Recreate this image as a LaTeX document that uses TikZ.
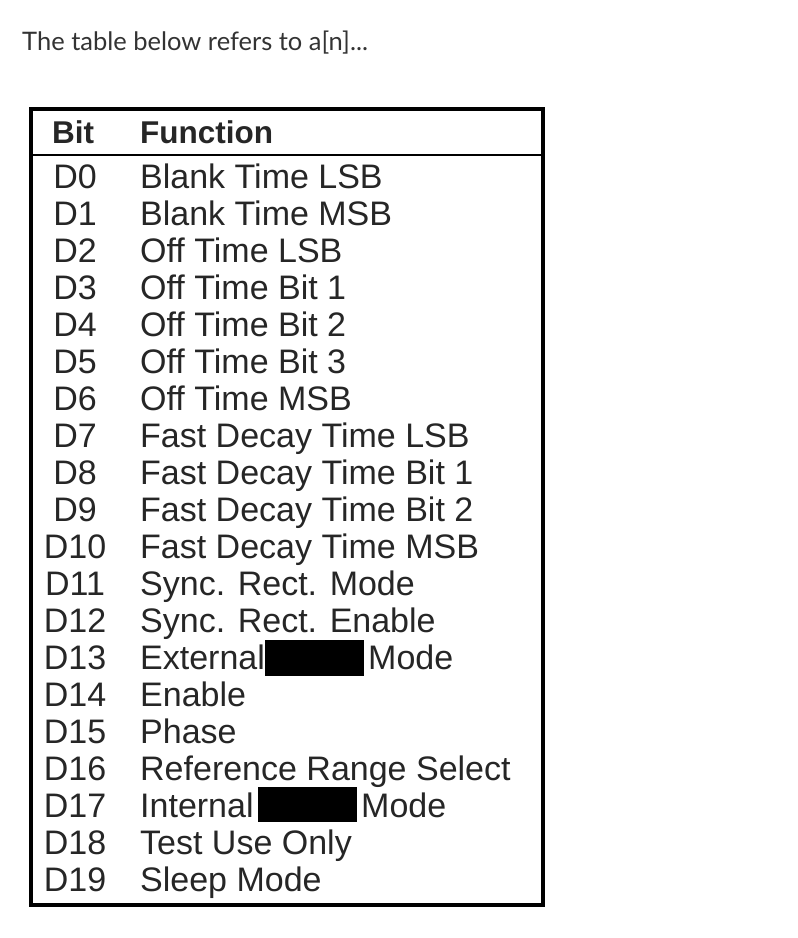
\documentclass[tikz,border=0pt]{standalone}
\usepackage{fontspec}
\setmainfont{Liberation Sans}
\newfontfamily\lato{Lato}
\begin{document}
\begin{tikzpicture}[x=1pt,y=-1pt,
  cell/.style={anchor=base west,inner sep=0pt,font=\fontsize{34}{34}\selectfont,text=black!85},
  bitc/.style={anchor=base,inner sep=0pt,font=\fontsize{34}{34}\selectfont,text=black!85},
  hdr/.style={anchor=base west,inner sep=0pt,font=\bfseries\fontsize{31.5}{31.5}\selectfont,text=black!85},
  redact/.style={fill=black,draw=none}]
\useasboundingbox (0,0) rectangle (798,938);
\node[anchor=base west,inner sep=0pt,font=\lato\fontsize{25.5}{25.5}\selectfont,text=black!80] (title) at (22,50) {The table below refers to a[n]...};
\draw[line width=4pt] (31,109) rectangle (543,905);
\draw[line width=2.5pt] (31,155) -- (543,155);
\node[hdr] (hb) at (52,143) {Bit};
\node[hdr] (hf) at (140,143) {Function};
\foreach \i/\t in {0/Blank Time LSB,1/Blank Time MSB,2/Off Time LSB,3/Off Time Bit 1,4/Off Time Bit 2,5/Off Time Bit 3,6/Off Time MSB,7/Fast Decay Time LSB,8/Fast Decay Time Bit 1,9/Fast Decay Time Bit 2,10/Fast Decay Time MSB,11/Sync. Rect. Mode,12/Sync. Rect. Enable,13/External,14/Enable,15/Phase,16/Reference Range Select,17/Internal,18/Test Use Only,19/Sleep Mode}{
  \node[bitc] (b\i) at (75,{188+37.05*\i}) {D\i};
  \node[cell] (f\i) at (140,{188+37.05*\i}) {\t};
}
\fill[redact] (265,640) rectangle (364,676);
\node[cell] (m13) at (368,{188+37.05*13}) {Mode};
\fill[redact] (258,787) rectangle (357,822);
\node[cell] (m17) at (361,{188+37.05*17}) {Mode};
\end{tikzpicture}
\end{document}
